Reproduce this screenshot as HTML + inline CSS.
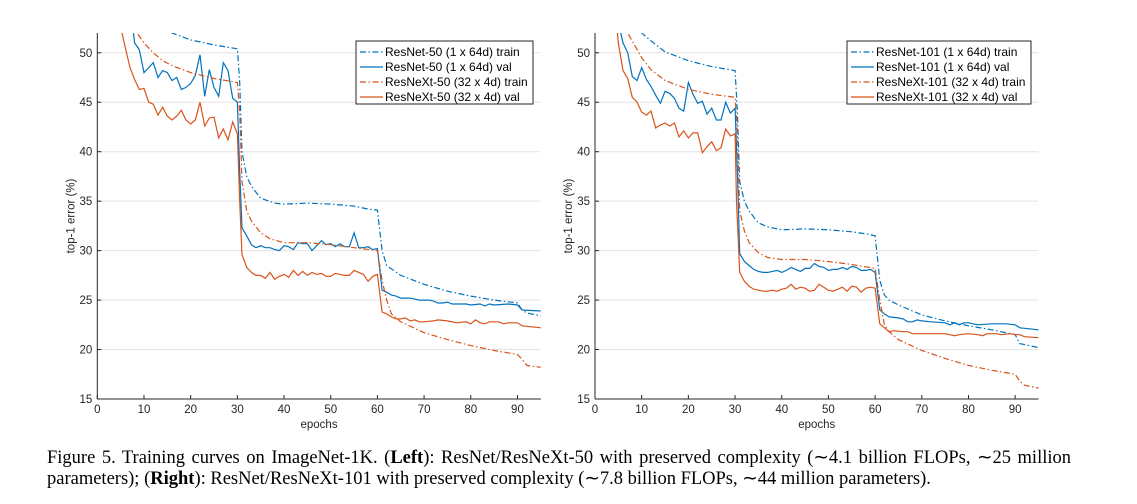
<!DOCTYPE html>
<html><head><meta charset="utf-8">
<style>
html,body{margin:0;padding:0;background:#fff;width:1137px;height:504px;overflow:hidden}
svg{position:absolute;left:0;top:0}
text{font-family:"Liberation Sans",sans-serif}
.cap{position:absolute;left:47px;width:1024px;font-family:"Liberation Serif",serif;font-size:18.5px;color:#000;line-height:21px}
</style></head><body>
<svg id="chart" width="1137" height="440"></svg>
<div class="cap" style="top:448px;text-align:justify;text-align-last:justify">Figure 5. Training curves on ImageNet-1K. (<b>Left</b>): ResNet/ResNeXt-50 with preserved complexity (∼4.1 billion FLOPs, ∼25 million</div>
<div class="cap" style="top:469px">parameters); (<b>Right</b>): ResNet/ResNeXt-101 with preserved complexity (∼7.8 billion FLOPs, ∼44 million parameters).</div>
<script>
// ---- data: [epoch, error] pairs ----
const l_res_train=[[14,53],[16,52],[20,51.3],[25,50.8],[30,50.4],[30.5,47],[31,40],[32,37.5],[33,36.5],[35,35.3],[38,34.8],[40,34.7],[45,34.8],[50,34.7],[55,34.5],[58,34.2],[60,34.1],[61,30],[62,28.5],[65,27.5],[70,26.6],[75,25.9],[80,25.4],[85,25.0],[90,24.7],[91,24.0],[92,23.7],[95,23.4]];
const l_res_val=[[7.5,53],[8,51],[9,50.3],[10,48],[11,48.5],[12,49],[13,47.5],[14,48.2],[15,48],[16,47.2],[17,47.5],[18,46.3],[19,46.5],[20,46.9],[21,47.7],[22,49.8],[23,45.6],[24,48.3],[25,46.5],[26,45.6],[27,49],[28,48.2],[29,45.4],[30,45],[30.5,38],[31,32.3],[32,31.5],[33,30.6],[34,30.3],[35,30.5],[36,30.3],[37,30.3],[38,30.1],[39,30],[40,30.5],[41,30.4],[42,30.1],[43,30.8],[44,30.7],[45,30.7],[46,30],[47,30.5],[48,31],[49,30.6],[50,30.7],[51,30.4],[52,30.7],[53,30.4],[54,30.4],[55,31.8],[56,30.3],[57,30.3],[58,30.4],[59,30.1],[60,30.2],[61,26],[62,25.8],[63,25.5],[64,25.4],[65,25.2],[66,25.2],[67,25.2],[68,25.1],[69,25],[70,25],[71,25],[72,24.9],[73,24.7],[74,24.7],[75,24.8],[76,24.6],[77,24.6],[78,24.6],[79,24.6],[80,24.5],[82,24.6],[83,24.4],[84,24.6],[85,24.5],[88,24.6],[90,24.5],[91,24],[95,23.9]];
const l_nxt_train=[[7.5,53],[8.5,52],[10,51],[12,50],[14,49.2],[16,48.7],[20,48],[25,47.4],[30,47],[30.5,44],[31,37],[32,34],[33,33],[35,31.8],[37,31.2],[40,30.8],[45,30.8],[50,30.6],[55,30.3],[60,30],[61,27],[62,25],[63,23.6],[65,22.8],[70,21.7],[75,21],[80,20.4],[85,19.9],[90,19.5],[91,19],[92,18.4],[95,18.2]];
const l_nxt_val=[[5,53],[5.3,52],[6,50.5],[7,48.5],[8,47.3],[9,46.3],[10,46.4],[11,45],[12,44.8],[13,43.7],[14,44.5],[15,43.6],[16,43.2],[17,43.6],[18,44.2],[19,43.2],[20,42.8],[21,43.2],[22,45],[23,42.6],[24,43.4],[25,43.5],[26,41.4],[27,42.3],[28,41.2],[29,43],[30,41.8],[30.5,35],[31,29.6],[32,28.3],[33,27.8],[34,27.5],[35,27.5],[36,27.2],[37,27.8],[38,27.1],[39,27.4],[40,27.6],[41,27.3],[42,28],[43,27.5],[44,27.9],[45,27.5],[46,27.8],[47,27.6],[48,27.7],[49,27.4],[50,27.4],[51,27.7],[52,27.6],[53,27.5],[54,27.5],[55,28],[56,27.8],[57,27.6],[58,26.9],[59,27.4],[60,27.6],[61,23.8],[62,23.6],[63,23.3],[64,23.1],[65,23.1],[66,23.2],[67,22.9],[68,23],[69,22.8],[70,22.8],[72,22.9],[73,23],[75,22.9],[77,22.7],[79,22.8],[80,22.6],[81,23],[82,22.7],[83,22.6],[84,22.8],[86,22.8],[87,22.6],[88,22.7],[90,22.7],[91,22.4],[93,22.3],[95,22.2]];
const r_res_train=[[8,53],[10,52],[12,51.2],[15,50.1],[20,49.2],[25,48.6],[30,48.2],[30.5,44],[31,37],[32,35],[33,34],[35,32.8],[37,32.4],[40,32.1],[45,32.2],[50,32.1],[55,31.9],[58,31.7],[60,31.5],[61,27],[62,25.5],[63,25],[65,24.5],[70,23.5],[75,22.9],[80,22.4],[85,22],[90,21.5],[91,20.6],[92,20.5],[95,20.2]];
const r_res_val=[[5,53],[5.5,52],[6,51],[7,50],[8,47.6],[9,47.2],[10,48.5],[11,47.3],[12,46.6],[13,45.7],[14,44.9],[15,46.1],[16,45.9],[17,45.4],[18,44.4],[19,44.1],[20,47],[21,45.8],[22,44.9],[23,45.1],[24,43.8],[25,44.4],[26,43.2],[27,43.2],[28,45],[29,43.9],[30,44.4],[30.5,38],[31,29.7],[32,28.9],[33,28.5],[34,28.1],[35,27.9],[36,27.8],[37,27.8],[38,27.9],[39,28],[40,27.8],[41,28],[42,28.3],[43,28.1],[44,27.9],[45,28.2],[46,28.2],[47,28.7],[48,28.4],[49,28.3],[50,28],[51,28.1],[52,28.1],[53,28.3],[54,28.1],[55,28.4],[56,28.3],[57,28],[58,28],[59,28.1],[60,27.8],[61,24],[62,23.6],[63,23.3],[65,23.2],[66,23.1],[67,22.8],[68,22.8],[69,23],[70,22.9],[72,22.8],[75,22.7],[76,22.5],[77,22.7],[78,22.5],[79,22.7],[80,22.7],[82,22.5],[85,22.6],[88,22.6],[90,22.5],[91,22.2],[95,22]];
const r_nxt_train=[[6,53],[7,52],[10,49.5],[12,48.3],[15,47.2],[20,46.3],[25,45.8],[30,45.5],[30.5,42],[31,34],[32,32],[33,30.8],[35,29.8],[37,29.3],[40,29.1],[45,29.1],[50,28.9],[55,28.6],[60,28.2],[61,25],[62,22.5],[63,21.8],[65,21],[70,19.9],[75,19.1],[80,18.4],[85,17.9],[90,17.5],[91,16.8],[92,16.4],[95,16.1]];
const r_nxt_val=[[4.6,53],[4.8,52],[5,51],[6,48.2],[7,47.4],[8,45.5],[9,45],[10,44],[11,43.7],[12,44.1],[13,42.4],[14,42.7],[15,42.9],[16,42.6],[17,42.9],[18,41.5],[19,42.1],[20,41.4],[21,41.9],[22,41.9],[23,39.9],[24,40.5],[25,41],[26,40.1],[27,40.4],[28,42.3],[29,41.6],[30,41.8],[30.3,35],[31,27.8],[32,26.9],[33,26.4],[34,26.1],[35,26],[36,25.9],[37,25.9],[38,26],[39,25.9],[40,26.1],[41,26.2],[42,26.6],[43,26.1],[44,26.3],[45,26.2],[46,25.9],[47,26],[48,26.6],[49,26.3],[50,26],[51,25.9],[52,26.1],[53,26.3],[54,25.9],[55,26.4],[56,26.3],[57,25.8],[58,26.2],[59,26.3],[60,26.2],[61,22.6],[62,22.2],[63,21.8],[64,21.9],[66,21.8],[67,21.8],[68,21.6],[70,21.6],[73,21.6],[75,21.6],[77,21.4],[78,21.5],[80,21.6],[82,21.5],[83,21.4],[84,21.6],[86,21.6],[87,21.5],[89,21.6],[90,21.5],[91,21.5],[92,21.3],[95,21.2]];
const xTicks=[0,10,20,30,40,50,60,70,80,90];
const yTicks=[15,20,25,30,35,40,45,50];
const leftNames=["ResNet-50 (1 x 64d) train","ResNet-50 (1 x 64d) val","ResNeXt-50 (32 x 4d) train","ResNeXt-50 (32 x 4d) val"];
const rightNames=["ResNet-101 (1 x 64d) train","ResNet-101 (1 x 64d) val","ResNeXt-101 (32 x 4d) train","ResNeXt-101 (32 x 4d) val"];

const NS="http://www.w3.org/2000/svg";
const svg=document.getElementById('chart');
const BLUE="#0072BD",ORANGE="#D95319",DD="6 2.5 1.5 2.5";
function mk(tag,attrs,parent){const e=document.createElementNS(NS,tag);for(const k in attrs)e.setAttribute(k,attrs[k]);(parent||svg).appendChild(e);return e;}

function panel(id,x0,legendX,legendW,series,names){
  const X0=x0,X1=x0+443.5,Y0=33,Y1=399;
  const xs=e=>X0+(e/95)*(X1-X0);
  const ys=v=>Y1-(v-15)/(52-15)*(Y1-Y0);
  const g=mk('g',{});
  
  
  const cp=mk('clipPath',{id:id+'clip'},g);mk('rect',{x:X0,y:Y0,width:X1-X0,height:Y1-Y0},cp);
  yTicks.forEach(t=>{
    const gl=mk('line',{x1:X0,x2:X1,y1:ys(t),y2:ys(t),stroke:'#e3e3e3','stroke-width':1},g);
    
    
    const tl=mk('text',{x:X0-5,y:ys(t)+4,'text-anchor':'end','font-size':11.5,fill:'#262626'},g);tl.textContent=t;
    
    
    mk('line',{x1:X0,x2:X0+4,y1:ys(t),y2:ys(t),stroke:'#262626'},g);
  });
  xTicks.forEach(t=>{
    const tl=mk('text',{x:xs(t),y:Y1+14,'text-anchor':'middle','font-size':11.5,fill:'#262626'},g);tl.textContent=t;
    
    
    mk('line',{x1:xs(t),x2:xs(t),y1:Y1,y2:Y1-4,stroke:'#262626'},g);
  });
  mk('line',{x1:X0,x2:X0,y1:Y0,y2:Y1,stroke:'#262626'},g);
  mk('line',{x1:X0,x2:X1,y1:Y1,y2:Y1,stroke:'#262626'},g);
  const xl=mk('text',{x:(X0+X1)/2,y:Y1+29,'text-anchor':'middle','font-size':11.5,fill:'#262626'},g);xl.textContent='epochs';
  
  
  const yl=mk('text',{x:0,y:0,'text-anchor':'middle','font-size':11.5,fill:'#262626',transform:`translate(${X0-23},${(Y0+Y1)/2}) rotate(-90)`},g);yl.textContent='top-1 error (%)';
  
  
  const styles=[[BLUE,DD],[BLUE,''],[ORANGE,DD],[ORANGE,'']];
  series.forEach((s,i)=>{
    const p=mk('polyline',{points:s.map(d=>xs(d[0]).toFixed(1)+','+ys(d[1]).toFixed(1)).join(' '),fill:'none',stroke:styles[i][0],'stroke-width':1.2,'stroke-dasharray':styles[i][1],'clip-path':`url(#${id}clip)`},g);
    
    
  });
  const lg=mk('g',{},g);
  
  
  mk('rect',{x:legendX,y:41,width:legendW,height:63,fill:'#fff',stroke:'#262626','stroke-width':1},lg);
  names.forEach((n,i)=>{
    const y=56+i*15;
    mk('line',{x1:legendX+4,x2:legendX+27,y1:y-4,y2:y-4,stroke:styles[i][0],'stroke-width':1.2,'stroke-dasharray':styles[i][1]},lg);
    const t=mk('text',{x:legendX+29,y:y,'font-size':12,fill:'#000'},lg);t.textContent=n;
    
    
  });
}
panel('left',97.3,356,177,[l_res_train,l_res_val,l_nxt_train,l_nxt_val],leftNames);
panel('right',595,847,184,[r_res_train,r_res_val,r_nxt_train,r_nxt_val],rightNames);
</script>
</body></html>
